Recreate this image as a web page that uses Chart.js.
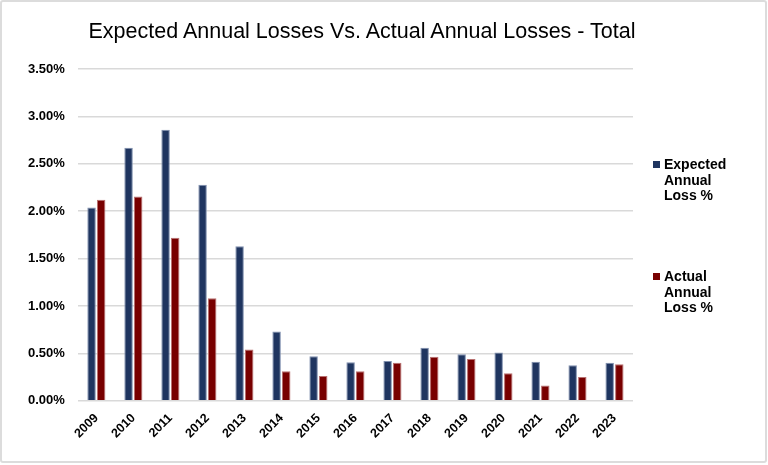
<!DOCTYPE html>
<html>
<head>
<meta charset="utf-8">
<script src="https://cdn.jsdelivr.net/npm/chart.js@4/dist/chart.umd.min.js"></script>
<style>
  html, body { margin: 0; padding: 0; background: #fff; }
  #wrap { position: relative; width: 768px; height: 465px; overflow: hidden; }
  #frame {
    position: absolute; left: 0; top: 0; width: 767px; height: 463px;
    box-sizing: border-box; border: 2px solid #dcdcdc; border-radius: 3px;
    pointer-events: none;
  }
  #title {
    position: absolute; left: 62px; width: 600px; top: 19px;
    text-align: center; white-space: nowrap;
    font-family: "Liberation Sans", Arial, sans-serif;
    font-size: 21.5px; line-height: 24px; color: #000;
  }
  #legend {
    position: absolute; left: 653px; top: 0; width: 72px;
    font-family: "Liberation Sans", Arial, sans-serif; font-weight: bold;
    font-size: 14px; line-height: 15.7px; color: #000;
  }
  .item { position: absolute; left: 0; padding-left: 11px; width: 72px; }
  .box { position: absolute; left: 0; top: 4px; width: 7px; height: 7px; }
</style>
</head>
<body>
<div id="wrap">
  <canvas id="lossChart" width="768" height="465"></canvas>
  <div id="title"></div>
  <div id="legend"></div>
  <div id="frame"></div>
</div>
<script>
const chartTitle = "Expected Annual Losses Vs. Actual Annual Losses - Total";
const years = ["2009", "2010", "2011", "2012", "2013", "2014", "2015", "2016",
               "2017", "2018", "2019", "2020", "2021", "2022", "2023"];
// values in percent
const expectedLoss = [2.04, 2.67, 2.86, 2.28, 1.63, 0.73, 0.47, 0.405, 0.42, 0.56, 0.49, 0.51, 0.41, 0.375, 0.40];
const actualLoss = [2.12, 2.155, 1.72, 1.08, 0.54, 0.31, 0.26, 0.31, 0.40, 0.465, 0.44, 0.29, 0.16, 0.25, 0.385];
const seriesNames = ["Expected Annual Loss %", "Actual Annual Loss %"];
const seriesColors = ["#1f3560", "#780000"];
const seriesEdges = ["#7f8fae", "#b87070"];
const legendTops = [157, 269];

const fontFamily = '"Liberation Sans", Arial, sans-serif';

document.getElementById("title").textContent = chartTitle;

const ctx = document.getElementById("lossChart").getContext("2d");
const chart = new Chart(ctx, {
  type: "bar",
  data: {
    labels: years,
    datasets: [
      {
        label: seriesNames[0],
        data: expectedLoss,
        backgroundColor: seriesColors[0],
        borderColor: seriesEdges[0],
        borderWidth: 1
      },
      {
        label: seriesNames[1],
        data: actualLoss,
        backgroundColor: seriesColors[1],
        borderColor: seriesEdges[1],
        borderWidth: 1
      }
    ]
  },
  options: {
    responsive: false,
    animation: false,
    layout: { padding: { left: 15, right: 135, top: 69, bottom: 22 } },
    datasets: { bar: { categoryPercentage: 0.52, barPercentage: 0.88 } },
    plugins: {
      legend: { display: false },
      tooltip: { enabled: false },
      title: { display: false }
    },
    scales: {
      x: {
        grid: { display: false },
        border: { display: false },
        ticks: {
          color: "#000",
          font: { family: fontFamily, size: 12.5, weight: "bold" },
          minRotation: 45,
          maxRotation: 45,
          padding: 2
        }
      },
      y: {
        min: 0,
        max: 3.5,
        border: { display: false },
        grid: { color: "#d9d9d9", lineWidth: 1.5, drawTicks: false },
        ticks: {
          stepSize: 0.5,
          color: "#000",
          padding: 13,
          font: { family: fontFamily, size: 13, weight: "bold" },
          callback: v => v.toFixed(2) + "%"
        }
      }
    }
  }
});

// legend built from dataset labels, wrapped in a narrow column
const legend = document.getElementById("legend");
chart.data.datasets.forEach((ds, i) => {
  const item = document.createElement("div");
  item.className = "item";
  item.style.top = legendTops[i] + "px";
  const box = document.createElement("span");
  box.className = "box";
  box.style.background = ds.backgroundColor;
  item.appendChild(box);
  item.appendChild(document.createTextNode(ds.label));
  legend.appendChild(item);
});
</script>
</body>
</html>
